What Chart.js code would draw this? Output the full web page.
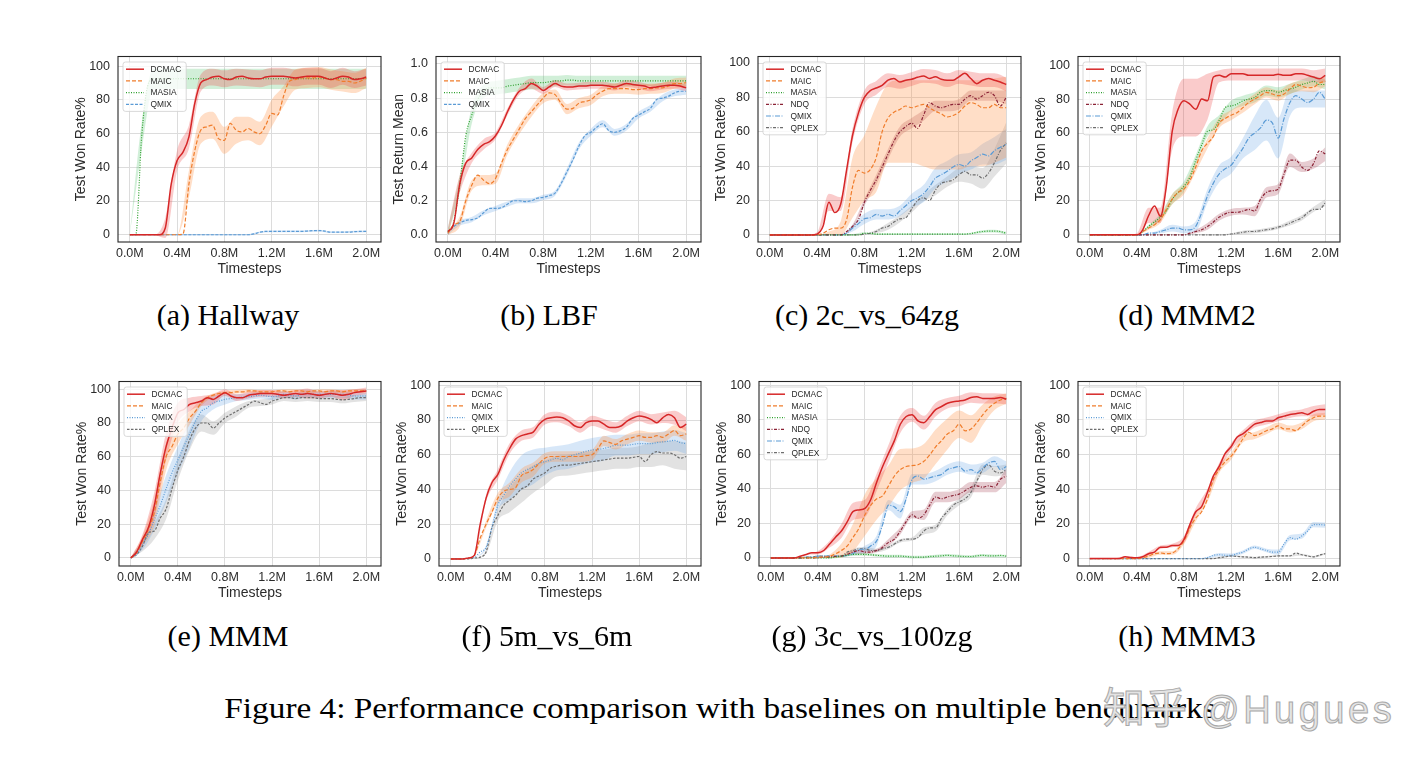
<!DOCTYPE html>
<html><head><meta charset="utf-8">
<script src="https://cdn.jsdelivr.net/npm/chart.js@4/dist/chart.umd.min.js"></script>
<style>
html,body{margin:0;padding:0;background:#fff;}
body{width:1426px;height:768px;position:relative;overflow:hidden;}
canvas.pc{position:absolute;}
.cap{position:absolute;font-family:'Liberation Serif','Times New Roman',serif;font-size:30px;color:#000;transform:translate(-50%,-50%);white-space:nowrap;}
#figcap{transform:translate(-50%,-50%) scaleX(1.11);}
#wm{position:absolute;left:1103px;top:674px;white-space:nowrap;color:#e4e4e4;-webkit-text-stroke:1px #a8a8a8;}
#wm .cn{font-family:'Noto Sans CJK SC';font-size:42px;}
#wm .en{font-family:'Liberation Sans';font-size:38px;letter-spacing:3.5px;}
</style></head><body>
<script>
// ---------- data ----------
const X = [0,0.05,0.1,0.15,0.2,0.25,0.3,0.35,0.4,0.45,0.5,0.55,0.6,0.65,0.7,0.75,0.8,0.85,0.9,0.95,1.0,1.05,1.1,1.15,1.2,1.25,1.3,1.35,1.4,1.45,1.5,1.55,1.6,1.65,1.7,1.75,1.8,1.85,1.9,1.95,2.0];
const XB = [0,0.1,0.2,0.3,0.4,0.5,0.6,0.7,0.8,0.9,1.0,1.1,1.2,1.3,1.4,1.5,1.6,1.7,1.8,1.9,2.0];
const X_TICKS = [0,0.4,0.8,1.2,1.6,2.0];
const PCT_TICKS = [0,20,40,60,80,100];
const RET_TICKS = [0,0.2,0.4,0.6,0.8,1.0];

// (a) Hallway
const A_DCMAC = [0,0,0,0,0,0,4,30,44,49, 58,78,90,92,93.5,94,92.5,92,93.5,94, 93,92.5,92.5,93.5,94,94,94,93.5,93,93.5, 94,94,94,93,92,93,94,93.5,92,92.5, 93.5];
const A_DCMAC_SD = [0,0,0,6,6,7,5,5,5,5,5,5,5,5,5,5,5,5,5,5,5];
const A_MAIC = [0,0,0,0,0,0,0,0,0,0.5, 30,50,62,64,65,57,56,66,62,61, 63,61,60,65,72,71,82,91,92,93, 93,93,93.5,93,92,92,91,91,90,91, 93];
const A_MAIC_SD = [0,0,0,0,0,8,8,8,8,8,7,7,8,6,6,6,6,6,6,6,6];
const A_MASIA = [0,0,58,88,92.5,92.5,92.5,92.5,92.5,92.5, 92.5,92.5,92.5,92.5,92.5,92.5,92.5,92.5,92.5,92.5, 92.5,92.5,92.5,92.5,92.5,92.5,92.5,92.5,92.5,92.5, 92.5,92.5,92.5,92.5,92.5,92.5,92.5,92.5,92.5,92.5, 92.5];
const A_MASIA_SD = [0,8,6,6,6,6,6,6,6,6,6,6,6,6,6,6,6,6,6,6,6];
const A_QMIX = [0,0,0,0,0,0,0,0,0,0, 0,0,0,0,0,0,0,0,0,0, 0,0.5,1.5,2,2,2,2,2,2,2, 2.2,2.5,2.5,2.2,1.5,1.5,1.5,1.5,1.8,2, 2];
const A_QMIX_SD = [0.5,0.5,0.5,0.5,0.5,0.5,0.5,0.5,0.5,0.5,0.5,0.5,0.5,0.5,0.5,0.5,0.5,0.5,0.5,0.5,0.5];

// (b) LBF
const B_DCMAC = [0.02,0.07,0.3,0.42,0.45,0.5,0.53,0.545,0.58,0.64, 0.72,0.79,0.84,0.855,0.885,0.87,0.845,0.865,0.885,0.87, 0.865,0.865,0.87,0.87,0.875,0.875,0.875,0.87,0.865,0.875, 0.885,0.88,0.875,0.87,0.86,0.865,0.87,0.875,0.875,0.87, 0.86];
const B_DCMAC_SD = [0.02,0.05,0.03,0.03,0.02,0.02,0.02,0.03,0.02,0.02,0.02,0.02,0.02,0.02,0.02,0.02,0.02,0.02,0.02,0.02,0.02];
const B_MAIC = [0.01,0.06,0.08,0.2,0.29,0.35,0.32,0.3,0.33,0.42, 0.5,0.56,0.62,0.68,0.72,0.76,0.8,0.83,0.82,0.77, 0.735,0.74,0.77,0.78,0.79,0.82,0.84,0.855,0.855,0.855, 0.855,0.85,0.85,0.855,0.855,0.86,0.86,0.87,0.885,0.885, 0.89];
const B_MAIC_SD = [0.01,0.03,0.03,0.03,0.03,0.03,0.03,0.03,0.03,0.03,0.03,0.03,0.03,0.03,0.03,0.03,0.03,0.03,0.03,0.03,0.03];
const B_MASIA = [0.02,0.08,0.3,0.58,0.7,0.79,0.84,0.86,0.86,0.86, 0.87,0.875,0.88,0.885,0.89,0.89,0.89,0.895,0.9,0.9, 0.905,0.905,0.9,0.9,0.9,0.9,0.9,0.9,0.9,0.9, 0.9,0.9,0.9,0.9,0.9,0.9,0.9,0.9,0.9,0.9, 0.9];
const B_MASIA_SD = [0.02,0.05,0.05,0.04,0.04,0.04,0.04,0.04,0.04,0.03,0.03,0.03,0.03,0.03,0.03,0.03,0.03,0.03,0.03,0.03,0.03];
const B_QMIX = [0.01,0.05,0.07,0.085,0.09,0.1,0.13,0.155,0.155,0.16, 0.18,0.2,0.2,0.195,0.2,0.215,0.22,0.23,0.245,0.3, 0.37,0.44,0.52,0.58,0.6,0.63,0.65,0.61,0.6,0.61, 0.63,0.68,0.7,0.72,0.74,0.79,0.8,0.81,0.83,0.84, 0.84];
const B_QMIX_SD = [0.01,0.015,0.015,0.015,0.015,0.015,0.015,0.015,0.015,0.015,0.02,0.02,0.02,0.02,0.02,0.02,0.02,0.02,0.02,0.02,0.02];

// (c) 2c_vs_64zg
const C_DCMAC = [0,0,0,0,0,0,0,0,0.5,5, 19,13,18,38,58,71,80,84,85.5,87, 90,91,89,90,90.6,91.7,92.5,91,92,90.6, 90,90,92,94,91,88,90,91,90,89, 87.5];
const C_DCMAC_SD = [0,0,0,0,1,5,4,4,4,4,4,4,4,4,4,4,4,4,4,4,4];
const C_MAIC = [0,0,0,0,0,0,0,0,0,1, 3,4,4,9,28,37.6,36,38,45,60, 68,71.4,73,75,74,75,76,74,72,70.5, 68.6,69.5,71.4,75,77,76,74,74,76,74, 74];
const C_MAIC_LO = [0,0,0,0,0,0,0,10,20,25,42,42,42,40,38,38,38,40,40,42,45];
const C_MAIC_HI = [0,0,0,0,0,2,8,45,58,75,88,90,90,90,90,90,90,90,90,91,92];
const C_MASIA = [0,0,0,0,0,0,0,0,0,0, 0,0,0,0,0,0,1,1,0.5,0.5, 0.5,0.5,0.5,0.5,0.5,0.5,0.5,0.5,0.5,0.5, 0.5,0.5,0.5,0.5,0.8,1.5,2,2.2,2.2,2, 1];
const C_MASIA_SD = [0,0,0,0,0,0,0.5,0.5,0.5,0.5,0.5,0.5,0.5,0.5,0.5,0.5,0.5,0.5,0.8,0.8,0.8];
const C_NDQ = [0,0,0,0,0,0,0,0,0,0, 0,0,0,2,5,9,19,26,32,39.5, 47,54.5,60,63,65,62,69.5,77,75,74, 75,76,76,79,81,79,81,83,81,75, 80];
const C_NDQ_SD = [0,0,0,0,0,0,0,1,2,3,3,3,3,3,3,3,3,3,3,3,4];
const C_QMIX = [0,0,0,0,0,0,0,0,0,0, 0,0,0,1,4,6.6,9.4,10,12,11, 12,11,14,17,20,21.6,24,28,33,35, 37,39.5,41,40,43,45,47,46,49,51, 52.6];
const C_QMIX_SD = [0,0,0,0,0,0,0,2,3,3,3,3,4,5,6,6,6,5,6,8,9];
const C_QPLEX = [0,0,0,0,0,0,0,0,0,0, 0,0,0,0,0,0,0.5,1,2,4, 5,7.5,9.4,10,15,20,21.6,20,26,30, 31,32,35,37,35,35,33,36,42,49, 53.5];
const C_QPLEX_SD = [0,0,0,0,0,0,0,0,0,1,2,2,2,2,3,3,4,5,6,8,12];

// (d) MMM2
const D_DCMAC = [0,0,0,0,0,0,0,0,0,3, 11.4,17,11,28.6,61,74,79,77,74,80, 79,93,94,93,95,95,95,94,94,94, 94,94,94.7,94,94,95,95,94,93,92, 94];
const D_DCMAC_LO = [0,0,0,0,0,7,7,50,58,58,68,90,91,91,91,91,91,91,91,90,90];
const D_DCMAC_HI = [0,0,0,0,1,16,16,72,92,92,95,97,98,98,98,98,98,98,98,97,98];
const D_MAIC = [0,0,0,0,0,0,0,0,0,2, 4,6,9,15,21,25,27,32,40,49.5, 54,58,66,68.6,70.5,72,75,78,80,82, 84,83,82,83,86,88.6,87.6,86.7,87,89.5, 90.5];
const D_MAIC_SD = [0,0,0,0,0,1,2,3,3,3,3,3,3,3,3,3,3,3,3,3,3];
const D_MASIA = [0,0,0,0,0,0,0,0,0,2, 5,7.6,10.5,14,21,25,28.6,34,44,53, 61,62,67.6,75,76,77,79,80,81,84, 85,85,84,85,86,87,88.6,89.5,90.5,88.6, 88.6];
const D_MASIA_SD = [0,0,0,0,0,1,2,3,3,3,3,3,3,3,3,3,3,3,3,3,3];
const D_NDQ = [0,0,0,0,0,0,0,0,0,0, 0,0,0,0,0,0,0,1,2,3, 5,7.6,10.5,12.4,13.3,13.3,14,15,14,21, 25,26,27,36,44,44,40,38,42,49.5, 47.6];
const D_NDQ_SD = [0,0,0,0,0,0,0,0,0,1,2,2,2,2,3,3,3,4,3,3,4];
const D_QMIX = [0,0,0,0,0,0,0,0,0,0, 1,1,2,3,4,4,3,3,5,13, 23,30.5,36,39,41,46,51,57,60,63, 67.6,66,57,68.6,78,82,80,78,80,84, 80];
const D_QMIX_SD = [0,0,0,0,0,0,1,2,2,3,4,5,5,6,10,12,12,8,5,5,5];
const D_QPLEX = [0,0,0,0,0,0,0,0,0,0, 0,0,0,0,0,0,0,0,0,0, 0,0,0,0,0.5,1,1.5,2,2,2.5, 3,3.5,4.5,5.5,7,8.5,10,13,15,15, 19];
const D_QPLEX_SD = [0,0,0,0,0,0,0,0,0,0,0.5,0.5,0.5,1,1,1,1,1.5,1.5,1.5,2];

// (e) MMM
const E_DCMAC = [0,3.5,11,18,31,50,66,77,86,88, 91,92,93,95,94,96,98,96,95,95, 96.5,97,97.5,97.5,97.5,97,96.5,97,97.5,97, 97.5,97,96.5,97,97.5,97,96.5,97,98,98.5, 99];
const E_DCMAC_SD = [0,3,8,8,6,4,3,3,2,2,2,2,2,2,2,3,2,2,3,2,2];
const E_MAIC = [0,3,10,17,27,45,60,66,73.5,77, 83,87,92,95,96.5,97.5,98,98,98.5,98.5, 99,99,98.5,98.5,98.5,99,99,98.5,99,99, 98.5,99,99,98.5,99,99,98.5,99,99,99, 99];
const E_MAIC_SD = [0,3,8,8,6,4,2,1,1,1,1,1,1,1,1,1,1,1,1,1,1];
const E_QMIX = [0,2,8,14,22.6,31,41,50.5,58,66, 73.5,81,87,89,92,93,94,94.5,95,95.3, 95.6,96,96.5,96,95.6,96,97,96.5,96,97, 97.5,97,97,97,97,97,97,96.5,96,96, 96];
const E_QMIX_SD = [0,3,6,8,8,8,6,4,3,2,2,2,2,2,2,2,2,2,2,2,2];
const E_QPLEX = [0,2,7,15,16,23.6,29,41,52,60, 70,77,80,80,77,80,83,85,87,89, 91,93,92,91,93,94,95,95,94.5,95, 95,95,94.5,94.5,94.5,94,93.7,94,94.5,95, 95];
const E_QPLEX_SD = [0,3,5,6,6,6,5,4,3,3,2,2,2,2,2,2,2,2,2,2,2];

// (f) 5m_vs_6m
const F_DCMAC = [0,0,0,0.5,2,20,35,44,48.7,57, 63.6,69,71,72,73,77.6,80.4,81.3,81.7,81.3, 79.5,76.7,75.7,78.5,79.5,79.5,77.6,75.7,75.7,76.7, 79.5,81.3,82.3,81.7,80.4,78.5,81.3,83.2,81.3,75.7, 77.6];
const F_DCMAC_SD = [0,0,0,2,3,3,3,3,3,3,3,3,3,3,3,3,3,3,3,4,4];
const F_MAIC = [0,0,0,0.5,2,12,20,27,35,39, 40,41,48,49.6,51.5,55,58,59,59,59, 59,59,59,59.5,60,63.6,68,67,66,68, 69,70,71,70,70,71,70,72,74,71, 72];
const F_MAIC_SD = [0,0,0,2,3,4,4,4,3,3,3,3,3,3,3,3,3,3,3,3,4];
const F_QMIX = [0,0,0,0.5,1,4,6.7,18,31,36.6, 42,46,49.6,51.5,53,55,56,57,58,57, 59,60,61,62,62.7,63,63.6,64.5,65.5,65.5, 65.5,66,66.4,66.4,66.4,67,67.4,67.8,68.3,67, 66.4];
const F_QMIX_SD = [0,0,0,1,3,8,10,10,8,7,7,7,7,7,6,6,6,6,6,6,6];
const F_QPLEX = [0,0,0,0,0.5,1,4,18,25,31, 33.8,36.6,40.3,42,46,47.8,49.6,52.4,53.4,54, 54,54.5,55,55.5,56,56.5,57,57.5,58,58, 58,58.5,59,56,60,61.8,61,61,60,58, 59];
const F_QPLEX_SD = [0,0,0,1,3,7,8,8,7,6,6,6,6,6,6,6,6,7,7,8,8];

// (g) 3c_vs_100zg
const G_DCMAC = [0,0,0,0,0,1,2,3,3,4.3, 8,12,15.6,21,27,27.8,28.7,34,44,53, 60.6,68,77.5,82,83,79.4,78.4,82,86,87.8, 89.7,90.6,91,91.6,93,93.4,92.5,92.5,92.5,93, 92];
const G_DCMAC_SD = [0,0,0,0,1,2,4,5,5,5,5,5,4,4,4,3,3,3,3,3,3];
const G_MAIC = [0,0,0,0,0,0,0,0,0.5,0.5, 1,2.4,4.3,7,12,17.4,25,30.6,34.3,36, 41.8,47.5,51.2,53,53.5,54,56,59.7,64.4,68, 71.9,73.7,77.5,73.7,74.7,78.4,83,86.9,89.7,91.6, 92.5];
const G_MAIC_SD = [0,0,0,0,0,1,4,8,12,12,12,12,10,10,10,9,8,8,6,4,3];
const G_MASIA = [0,0,0,0,0,0,0,0,0,0, 0,0.5,1,1.5,2,2,2,1.8,1.5,1.2, 1,1,1,0.8,0.5,0.5,0.5,0.8,1,1.2, 1.5,1.2,1,0.8,0.8,1.2,1.5,1.2,1.2,1.5, 1];
const G_MASIA_SD = [0,0,0,0,0,0.5,0.8,0.8,0.8,0.8,0.8,0.8,0.8,0.8,0.8,0.8,0.8,0.8,0.8,0.8,0.8];
const G_NDQ = [0,0,0,0,0,0,0,0,0,0.5, 0.5,0.8,1,2,3.4,4.3,3.4,3.4,4.3,6.2, 9,10.9,15.6,21,25,23,25,30.6,35.3,34.3, 35.3,36.2,37,39,41,41.8,41,41.8,41,45.6, 47.5];
const G_NDQ_SD = [0,0,0,0,0,0,0,1,1,1,2,2,2,3,3,3,3,3,3,3,4];
const G_QMIX = [0,0,0,0,0,0,0.5,0.5,1,1, 1,1,1,1.5,2.5,5,5,7,10,19.3, 30.6,29.6,26.8,34.3,45.6,47.5,45.6,46.5,47.5,48.4, 51.2,52.2,53,50.3,51.2,49.3,52.2,55,56,51.2, 53];
const G_QMIX_SD = [0,0,0,0,0,0,0,1,2,3,3,4,3,3,3,3,3,3,3,3,3];
const G_QPLEX = [0,0,0,0,0,0,0.5,0.5,1,1, 1,1,1,3.4,4.3,5.3,5.3,4.3,4.3,5.3, 6.2,8,10,10.9,10.9,11.8,15.6,17.4,17.4,23, 26.8,30.6,32.5,34.3,38,44.7,51.2,54,50.3,49.3, 51.2];
const G_QPLEX_SD = [0,0,0,0,0,0,0,1,1,1,1,1,1,2,2,2,2,3,3,3,3];

// (h) MMM3
const H_DCMAC = [0,0,0,0,0,0,1,0.6,0.4,1, 2.8,3.7,6.5,6.5,7.5,7.5,11,19.6,27,30, 38.3,47.7,53.3,60.7,64.5,70,72,74.8,77.6,78.5, 79.4,79.4,81.3,82.2,83.2,83.6,84.1,83.2,85,86, 86];
const H_DCMAC_SD = [0,0,0,0.5,0.5,1,1,1,2,2,2,2,2,2,2,2,2,2,2,3,3];
const H_MAIC = [0,0,0,0,0,0,0,0,0,0.5, 1.5,2.8,3.2,2.8,3.2,5.6,10.3,17.8,23.4,27, 34.6,45.8,51.4,56,59,63.6,69,72.9,71,72, 73.8,74.8,76.6,74.8,74.8,73.8,76.6,79.4,81.3,82.2, 82.2];
const H_MAIC_SD = [0,0,0,0,0,1,1,1,2,2,2,2,2,2,2,2,2,2,2,2,2];
const H_QMIX = [0,0,0,0,0,0,0,0,0,0, 0,0,0,0,0,0,0,0,0,0, 0.5,1.9,2.2,1.9,1.9,2.8,3.7,5.6,6.5,5.6, 4.7,3.7,3.7,8.4,12.1,11.2,13,15.9,19.6,19.6, 19.3];
const H_QMIX_SD = [0,0,0,0,0,0,0,0,0,0,0.5,1,1,1,1,1,1.5,1.5,1.5,1.5,1.5];
const H_QPLEX = [0,0,0,0,0,0,0,0,0,0, 0,0,0,0,0,0,0,0,0,0, 0,0,0.5,1,1.5,1.2,1,0.8,0.5,0.8, 1,1.2,1.5,1.5,1.5,3.2,2.2,1.5,1,2, 2.8];
const H_QPLEX_SD = [0,0,0,0,0,0,0,0,0,0,0,0.5,0.5,0.5,0.5,0.5,0.5,0.5,0.5,0.5,0.5];

// ---------- styling / layout ----------
const FONT = "'Liberation Sans', Arial, sans-serif";
const STY = {
  DCMAC:{c:'#d62728', b:'rgba(238,70,70,0.28)', d:[], w:1.5},
  MAIC:{c:'#f07d2c', b:'rgba(255,145,70,0.30)', d:[4,2], w:1.2},
  MASIA:{c:'#2ca02c', b:'rgba(70,190,100,0.25)', d:[1,1.5], w:1.2},
  NDQ:{c:'#8b2336', b:'rgba(160,50,70,0.25)', d:[3,1.5,1,1.5], w:1.2},
  QMIX:{c:'#5b9bd5', b:'rgba(110,170,230,0.28)', d:[5,1.5,1,1.5], w:1.2},
  QPLEX:{c:'#6e6e6e', b:'rgba(140,140,140,0.25)', d:[3,1.5,1,1.5], w:1.2}
};
const PCT = 'Test Won Rate%';
const PANELS = [
  {L:118,R:381,T:51,B:242, ymin:-4.3, ymax:105.7, yt:PCT_TICKS, dec:0, yl:PCT, dash:{QMIX:[3,1.5]},
   s:[['DCMAC',A_DCMAC,A_DCMAC_SD],['MAIC',A_MAIC,A_MAIC_SD],['MASIA',A_MASIA,A_MASIA_SD],['QMIX',A_QMIX,A_QMIX_SD]]},
  {L:436,R:701,T:51,B:242, ymin:-0.041, ymax:1.043, yt:RET_TICKS, dec:1, yl:'Test Return Mean', dash:{QMIX:[3,1.5]},
   s:[['DCMAC',B_DCMAC,B_DCMAC_SD],['MAIC',B_MAIC,B_MAIC_SD],['MASIA',B_MASIA,B_MASIA_SD],['QMIX',B_QMIX,B_QMIX_SD]]},
  {L:758,R:1021,T:51,B:242, ymin:-4.1, ymax:103.8, yt:PCT_TICKS, dec:0, yl:PCT, dash:{},
   s:[['DCMAC',C_DCMAC,C_DCMAC_SD],['MAIC',C_MAIC,{lo:C_MAIC_LO,hi:C_MAIC_HI}],['MASIA',C_MASIA,C_MASIA_SD],['NDQ',C_NDQ,C_NDQ_SD],['QMIX',C_QMIX,C_QMIX_SD],['QPLEX',C_QPLEX,C_QPLEX_SD]]},
  {L:1078,R:1340,T:51,B:242, ymin:-4.2, ymax:105.1, yt:PCT_TICKS, dec:0, yl:PCT, dash:{},
   s:[['DCMAC',D_DCMAC,{lo:D_DCMAC_LO,hi:D_DCMAC_HI}],['MAIC',D_MAIC,D_MAIC_SD],['MASIA',D_MASIA,D_MASIA_SD],['NDQ',D_NDQ,D_NDQ_SD],['QMIX',D_QMIX,D_QMIX_SD],['QPLEX',D_QPLEX,D_QPLEX_SD]]},
  {L:119,R:381,T:376,B:566, ymin:-4.8, ymax:104.6, yt:PCT_TICKS, dec:0, yl:PCT, dash:{QMIX:[1,1.5],QPLEX:[2.5,1.5]},
   s:[['DCMAC',E_DCMAC,E_DCMAC_SD],['MAIC',E_MAIC,E_MAIC_SD],['QMIX',E_QMIX,E_QMIX_SD],['QPLEX',E_QPLEX,E_QPLEX_SD]]},
  {L:439,R:701,T:376,B:566, ymin:-4.1, ymax:102.2, yt:PCT_TICKS, dec:0, yl:PCT, dash:{QMIX:[1,1.5],QPLEX:[2.5,1.5]},
   s:[['DCMAC',F_DCMAC,F_DCMAC_SD],['MAIC',F_MAIC,F_MAIC_SD],['QMIX',F_QMIX,F_QMIX_SD],['QPLEX',F_QPLEX,F_QPLEX_SD]]},
  {L:759,R:1021,T:376,B:566, ymin:-4.7, ymax:102.3, yt:PCT_TICKS, dec:0, yl:PCT, dash:{},
   s:[['DCMAC',G_DCMAC,G_DCMAC_SD],['MAIC',G_MAIC,G_MAIC_SD],['MASIA',G_MASIA,G_MASIA_SD],['NDQ',G_NDQ,G_NDQ_SD],['QMIX',G_QMIX,G_QMIX_SD],['QPLEX',G_QPLEX,G_QPLEX_SD]]},
  {L:1078,R:1340,T:376,B:566, ymin:-4.3, ymax:102.2, yt:PCT_TICKS, dec:0, yl:PCT, dash:{QMIX:[1,1.5],QPLEX:[2.5,1.5]},
   s:[['DCMAC',H_DCMAC,H_DCMAC_SD],['MAIC',H_MAIC,H_MAIC_SD],['QMIX',H_QMIX,H_QMIX_SD],['QPLEX',H_QPLEX,H_QPLEX_SD]]}
];
const CAPS = [['(a) Hallway',228,315],['(b) LBF',549,315],['(c) 2c_vs_64zg',867,315],['(d) MMM2',1187,315],
              ['(e) MMM',228,636],['(f) 5m_vs_6m',547,636],['(g) 3c_vs_100zg',872,636],['(h) MMM3',1187,636]];
const FIG_CAPTION = 'Figure 4: Performance comparison with baselines on multiple benchmarks';

const YAXW = 48, PADR = 20, PADT = 10, XAXH = 36, PADB = 4;

const framePlugin = {id:'frame', afterDatasetsDraw(chart){
  const {ctx, chartArea:a} = chart;
  ctx.save(); ctx.strokeStyle = '#262626'; ctx.lineWidth = 1.1; ctx.setLineDash([]);
  ctx.strokeRect(a.left, a.top, a.right - a.left, a.bottom - a.top);
  ctx.restore();
}};
const legendPlugin = {id:'ilegend', afterDraw(chart){
  const ctx = chart.ctx, a = chart.chartArea;
  const items = chart.data.datasets.filter(d => !d.isBand);
  ctx.save();
  ctx.font = '8.4px ' + FONT;
  const tw = Math.max(...items.map(d => ctx.measureText(d.label).width));
  const x0 = a.left + 5, y0 = a.top + 5.5, rh = 11.7;
  const w = 27.5 + tw + 5, h = items.length * rh + 2.6;
  ctx.beginPath(); ctx.roundRect(x0, y0, w, h, 2.5);
  ctx.fillStyle = 'rgba(255,255,255,0.8)'; ctx.fill();
  ctx.lineWidth = 0.8; ctx.strokeStyle = '#cfcfcf'; ctx.stroke();
  items.forEach((d, i) => {
    const cy = y0 + 7.2 + i * rh;
    ctx.beginPath(); ctx.setLineDash(d.borderDash || []); ctx.lineWidth = d.borderWidth; ctx.strokeStyle = d.borderColor;
    ctx.moveTo(x0 + 3, cy); ctx.lineTo(x0 + 21, cy); ctx.stroke();
    ctx.setLineDash([]);
    ctx.fillStyle = '#262626'; ctx.textBaseline = 'middle'; ctx.textAlign = 'left';
    ctx.fillText(d.label, x0 + 27.5, cy + 0.5);
  });
  ctx.restore();
}};

function buildDatasets(p){
  const lines = [], bands = [];
  p.s.forEach(([name, m, band]) => {
    const st = STY[name];
    const dash = (p.dash && p.dash[name]) || st.d;
    lines.push({label:name, data:X.map((x,i)=>({x, y:m[i]})), borderColor:st.c, borderWidth:st.w, borderDash:dash,
      pointRadius:0, fill:false, cubicInterpolationMode:'monotone'});
    let lo, hi;
    if (Array.isArray(band)) {
      lo = XB.map((x,i)=>({x, y:m[2*i]-band[i]}));
      hi = XB.map((x,i)=>({x, y:m[2*i]+band[i]}));
    } else {
      lo = XB.map((x,i)=>({x, y:band.lo[i]}));
      hi = XB.map((x,i)=>({x, y:band.hi[i]}));
    }
    bands.push({isBand:true, data:lo, borderWidth:0, borderColor:'rgba(0,0,0,0)', pointRadius:0, fill:false, cubicInterpolationMode:'monotone'});
    bands.push({isBand:true, data:hi, borderWidth:0, borderColor:'rgba(0,0,0,0)', pointRadius:0, fill:'-1', backgroundColor:st.b, cubicInterpolationMode:'monotone'});
  });
  return lines.concat(bands);
}

PANELS.forEach(p => {
  const cv = document.createElement('canvas');
  cv.className = 'pc';
  const W = (p.R - p.L) + YAXW + PADR, H = (p.B - p.T) + PADT + XAXH + PADB;
  cv.width = W; cv.height = H;
  cv.style.width = W + 'px'; cv.style.height = H + 'px';
  cv.style.left = (p.L - YAXW) + 'px'; cv.style.top = (p.T - PADT) + 'px';
  document.body.appendChild(cv);
  const tickFont = {family:FONT, size:12.5};
  const titleFont = {family:FONT, size:14};
  new Chart(cv, {
    type:'line',
    data:{datasets: buildDatasets(p)},
    options:{
      responsive:false, animation:false, devicePixelRatio:1,
      layout:{padding:{left:0, right:PADR, top:PADT, bottom:PADB}},
      plugins:{legend:{display:false}, tooltip:{enabled:false}},
      scales:{
        x:{type:'linear', min:-0.1, max:2.125,
           afterBuildTicks: s => { s.ticks = X_TICKS.map(v => ({value:v})); },
           afterFit: s => { s.height = XAXH; },
           grid:{color:'#dcdcdc', lineWidth:1, drawTicks:false}, border:{display:false},
           ticks:{padding:4, font:tickFont, color:'#2b2b2b', maxRotation:0, autoSkip:false, callback:v => Number(v).toFixed(1) + 'M'},
           title:{display:true, text:'Timesteps', font:titleFont, color:'#2b2b2b', padding:{top:0, bottom:0}}},
        y:{type:'linear', min:p.ymin, max:p.ymax,
           afterBuildTicks: s => { s.ticks = p.yt.map(v => ({value:v})); },
           afterFit: s => { s.width = YAXW; },
           grid:{color:'#dcdcdc', lineWidth:1, drawTicks:false}, border:{display:false},
           ticks:{padding:8, font:tickFont, color:'#2b2b2b', autoSkip:false, callback:v => Number(v).toFixed(p.dec)},
           title:{display:true, text:p.yl, font:titleFont, color:'#2b2b2b', padding:{top:2.5, bottom:0}}}
      }
    },
    plugins:[framePlugin, legendPlugin]
  });
});

CAPS.forEach(([t, x, y]) => {
  const d = document.createElement('div'); d.className = 'cap'; d.textContent = t;
  d.style.left = x + 'px'; d.style.top = y + 'px'; document.body.appendChild(d);
});
const fc = document.createElement('div'); fc.className = 'cap'; fc.id = 'figcap'; fc.textContent = FIG_CAPTION;
fc.style.left = '720px'; fc.style.top = '708px'; document.body.appendChild(fc);
const wm = document.createElement('div'); wm.id = 'wm';
wm.innerHTML = '<span class="cn">知乎</span><span class="en"> @Hugues</span>';
document.body.appendChild(wm);
</script>
</body></html>
